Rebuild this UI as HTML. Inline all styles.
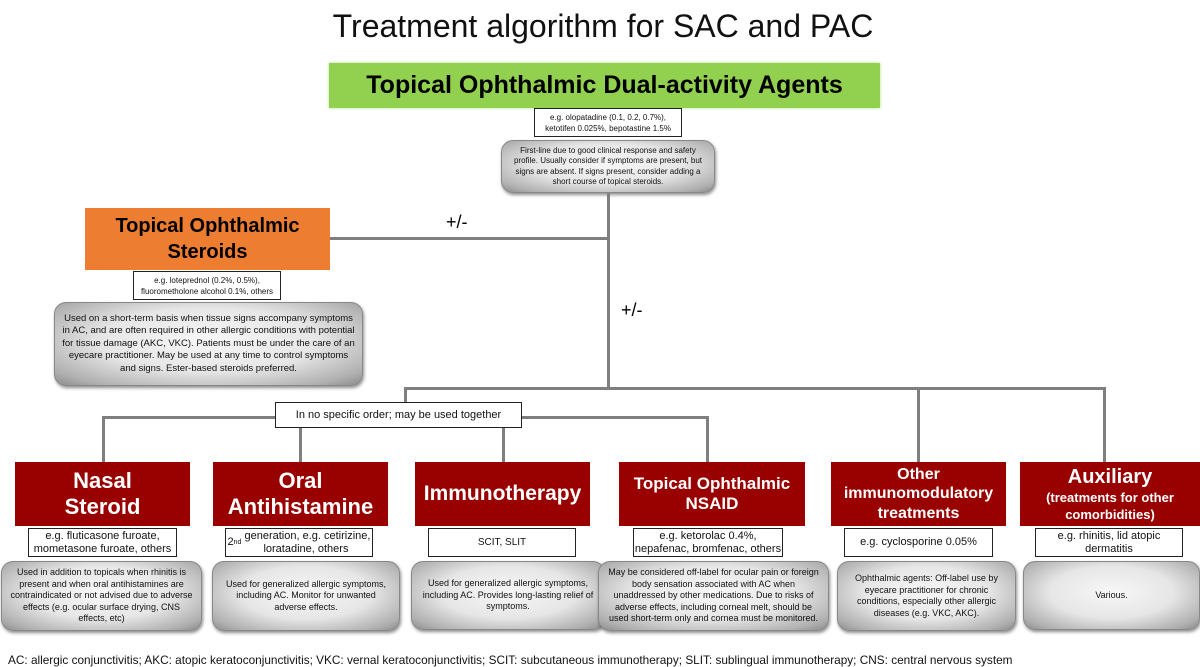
<!DOCTYPE html>
<html><head><meta charset="utf-8"><style>
body{margin:0;width:1200px;height:667px;background:#fff;position:relative;overflow:hidden;font-family:"Liberation Sans",sans-serif;}
div{position:absolute;box-sizing:border-box;}
.t{display:flex;align-items:center;justify-content:center;text-align:center;}
.ln{background:#7f7f7f;}
.sm{background:#fff;border:1px solid #222;font-size:11px;line-height:13px;color:#111;}
.gr{border-radius:12px;background:radial-gradient(ellipse at 50% 45%,#f7f7f7 0%,#e6e6e6 50%,#b0b0b0 85%,#8c8c8c 100%);box-shadow:1px 2px 3px rgba(0,0,0,.45);border:1px solid #888;font-size:9px;line-height:11.5px;color:#111;padding:0 6px;}
.red{background:#990000;color:#fff;font-weight:bold;line-height:1.2;}
</style></head><body>
<div class="t" style="left:300px;top:6px;width:606px;height:40px;font-size:32px;color:#111;">Treatment algorithm for SAC and PAC</div>

<div class="t" style="left:329px;top:63px;width:551px;height:45px;background:#92d050;font-weight:bold;font-size:25px;color:#000;box-shadow:0 0 3px #b5e08a;">Topical Ophthalmic Dual-activity Agents</div>
<div class="t sm" style="left:534px;top:108px;width:148px;height:29px;font-size:8px;line-height:11px;">e.g. olopatadine (0.1, 0.2, 0.7%),<br>ketotifen 0.025%, bepotastine 1.5%</div>
<div class="t gr" style="left:501px;top:140px;width:214px;height:53px;font-size:8px;line-height:10.5px;">First-line due to good clinical response and safety profile. Usually consider if symptoms are present, but signs are absent. If signs present, consider adding a short course of topical steroids.</div>

<div class="ln" style="left:607px;top:193px;width:3px;height:197px;"></div>
<div class="ln" style="left:330px;top:237px;width:280px;height:3px;"></div>
<div style="left:446px;top:212px;font-size:18px;">+/-</div>
<div style="left:621px;top:300px;font-size:18px;">+/-</div>

<div class="t" style="left:85px;top:208px;width:245px;height:62px;background:#ed7d31;font-weight:bold;font-size:20px;line-height:1.3;color:#000;">Topical Ophthalmic<br>Steroids</div>
<div class="t sm" style="left:133px;top:271px;width:148px;height:29px;font-size:8px;line-height:11px;">e.g. loteprednol (0.2%, 0.5%),<br>fluorometholone alcohol 0.1%, others</div>
<div class="t gr" style="left:54px;top:302px;width:309px;height:84px;font-size:9.5px;line-height:12.5px;">Used on a short-term basis when tissue signs accompany symptoms in AC, and are often required in other allergic conditions with potential for tissue damage (AKC, VKC). Patients must be under the care of an eyecare practitioner. May be used at any time to control symptoms and signs. Ester-based steroids preferred.</div>

<div class="ln" style="left:404px;top:387px;width:702px;height:3px;"></div>
<div class="ln" style="left:404px;top:387px;width:3px;height:16px;"></div>
<div class="ln" style="left:102px;top:416px;width:607px;height:3px;"></div>
<div class="ln" style="left:102px;top:416px;width:3px;height:46px;"></div>
<div class="ln" style="left:299px;top:416px;width:3px;height:46px;"></div>
<div class="ln" style="left:502px;top:416px;width:3px;height:46px;"></div>
<div class="ln" style="left:706px;top:416px;width:3px;height:46px;"></div>
<div class="ln" style="left:917px;top:387px;width:3px;height:75px;"></div>
<div class="ln" style="left:1103px;top:387px;width:3px;height:75px;"></div>
<div class="t sm" style="left:275px;top:402px;width:247px;height:26px;font-size:11px;">In no specific order; may be used together</div>

<div class="t red" style="left:15px;top:462px;width:175px;height:64px;font-size:22px;">Nasal<br>Steroid</div>
<div class="t red" style="left:213px;top:462px;width:175px;height:64px;font-size:22px;">Oral<br>Antihistamine</div>
<div class="t red" style="left:415px;top:462px;width:175px;height:64px;font-size:21px;">Immunotherapy</div>
<div class="t red" style="left:619px;top:462px;width:186px;height:64px;font-size:17px;">Topical Ophthalmic<br>NSAID</div>
<div class="t red" style="left:831px;top:462px;width:175px;height:64px;font-size:16px;">Other<br>immunomodulatory<br>treatments</div>
<div class="t red" style="left:1020px;top:462px;width:180px;height:64px;font-size:13px;line-height:1.3;"><span><span style="font-size:20px;">Auxiliary</span><br>(treatments for other<br>comorbidities)</span></div>

<div class="t sm" style="left:28px;top:528px;width:149px;height:29px;">e.g. fluticasone furoate,<br>mometasone furoate, others</div>
<div class="t sm" style="left:225px;top:528px;width:148px;height:29px;">2<sup style="font-size:7px;line-height:0">nd</sup>&nbsp;generation, e.g. cetirizine,<br>loratadine, others</div>
<div class="t sm" style="left:428px;top:528px;width:148px;height:29px;font-size:10px;">SCIT, SLIT</div>
<div class="t sm" style="left:633px;top:528px;width:150px;height:29px;">e.g. ketorolac 0.4%,<br>nepafenac, bromfenac, others</div>
<div class="t sm" style="left:844px;top:528px;width:149px;height:29px;">e.g. cyclosporine 0.05%</div>
<div class="t sm" style="left:1035px;top:528px;width:148px;height:29px;">e.g. rhinitis, lid atopic<br>dermatitis</div>

<div class="t gr" style="left:1px;top:561px;width:201px;height:70px;">Used in addition to topicals when rhinitis is present and when oral antihistamines are contraindicated or not advised due to adverse effects (e.g. ocular surface drying, CNS effects, etc)</div>
<div class="t gr" style="left:212px;top:561px;width:188px;height:70px;">Used for generalized allergic symptoms, including AC. Monitor for unwanted adverse effects.</div>
<div class="t gr" style="left:411px;top:561px;width:194px;height:69px;">Used for generalized allergic symptoms, including AC. Provides long-lasting relief of symptoms.</div>
<div class="t gr" style="left:598px;top:561px;width:231px;height:70px;">May be considered off-label for ocular pain or foreign body sensation associated with AC when unaddressed by other medications. Due to risks of adverse effects, including corneal melt, should be used short-term only and cornea must be monitored.</div>
<div class="t gr" style="left:837px;top:561px;width:179px;height:70px;">Ophthalmic agents: Off-label use by eyecare practitioner for chronic conditions, especially other allergic diseases (e.g. VKC, AKC).</div>
<div class="t gr" style="left:1023px;top:561px;width:177px;height:69px;">Various.</div>

<div style="left:8px;top:653px;font-size:11.8px;color:#111;white-space:nowrap;">AC: allergic conjunctivitis; AKC: atopic keratoconjunctivitis; VKC: vernal keratoconjunctivitis; SCIT: subcutaneous immunotherapy; SLIT: sublingual immunotherapy; CNS: central nervous system</div>
</body></html>
